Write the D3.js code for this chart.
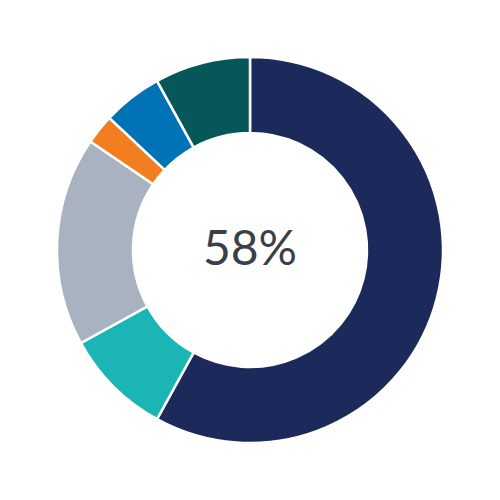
<!DOCTYPE html>
<html>
<head>
<meta charset="utf-8">
<script src="https://cdn.jsdelivr.net/npm/d3@7"></script>
<style>
  html, body { margin: 0; padding: 0; background: #ffffff; }
</style>
</head>
<body>
<div id="chart"></div>
<script>
// slice shares (percent), clockwise from 12 o'clock
const categories = ["A", "B", "C", "D", "E", "F"];
const values = [58, 9, 17.5, 2.5, 5, 8];
const colors = ["#1b2a5a", "#1bb5b5", "#a8b2c0", "#f37d21", "#0073b7", "#06575a"];
const centerLabel = "58%";

const width = 500, height = 500;
const outerR = 193, innerR = 117;

const svg = d3.select("#chart").append("svg")
    .attr("width", width)
    .attr("height", height);

const g = svg.append("g")
    .attr("transform", `translate(${width / 2},${height / 2})`);

const pie = d3.pie().sort(null).value(d => d);
const arc = d3.arc().innerRadius(innerR).outerRadius(outerR);

g.selectAll("path")
    .data(pie(values))
    .join("path")
    .attr("d", arc)
    .attr("fill", (d, i) => colors[i])
    .attr("stroke", "#ffffff")
    .attr("stroke-width", 2.5)
    .attr("stroke-linejoin", "miter");

g.append("text")
    .attr("text-anchor", "middle")
    .attr("dominant-baseline", "central")
    .attr("y", -4)
    .attr("font-family", "Lato, sans-serif")
    .attr("font-weight", 400)
    .attr("font-size", 48)
    .attr("fill", "#3a3f48")
    .text(centerLabel);
</script>
</body>
</html>
